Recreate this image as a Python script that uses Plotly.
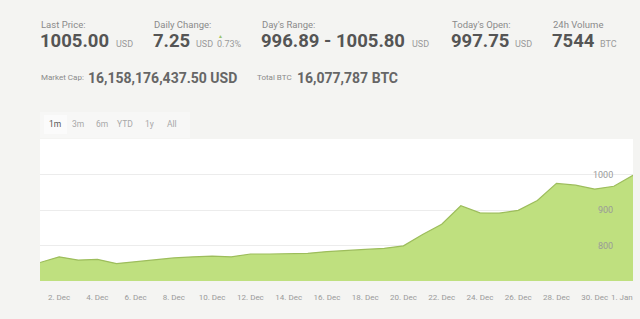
import plotly.graph_objects as go
import pandas as pd

# ---- data ----
dates = pd.date_range("2016-12-01", "2017-01-01", freq="D").strftime("%Y-%m-%d").tolist()
prices = [752, 768, 759, 761, 749, 755, 761, 765, 768, 770, 768, 776, 776, 777, 778, 783,
          787, 789, 792, 799, 831, 860, 912, 892, 891, 899, 927, 975, 970, 959, 967, 998]
x_tick_vals = ["2016-12-%02d" % d for d in range(2, 31, 2)]
x_tick_text = ["%d. Dec" % d for d in range(2, 31, 2)]
y_tick_vals = [800, 900, 1000]
range_buttons = ["1m", "3m", "6m", "YTD", "1y", "All"]

W, H = 640, 319
L, R, T, B = 40, 7, 139, 38
PW, PH = W - L - R, H - T - B

def px(x):
    return (x - L) / PW

def py(y):
    return (H - B - y) / PH

fig = go.Figure()
fig.add_trace(go.Scatter(
    x=dates, y=prices, mode="lines", fill="tozeroy",
    line=dict(color="#9dbd5c", width=1.2), fillcolor="#bfe07f",
    hoverinfo="skip", showlegend=False))

FONT = "Roboto"
ann = []

def txt(x, y, s, size, color, bold=False, anchor="left"):
    ann.append(dict(x=px(x), y=py(y), xref="paper", yref="paper", text=("<b>%s</b>" % s) if bold else s,
                    showarrow=False, xanchor=anchor, yanchor="middle",
                    font=dict(family=FONT, size=size, color=color)))

lab = "#8a8a8a"; big = "#555555"; unit = "#9a9a9a"
BIG = 18.5
# header row 1
txt(39, 24, "Last Price:", 9.5, lab)
txt(38, 41, "1005.00", BIG, big, True)
txt(114, 44, "USD", 9, unit)
txt(152, 24, "Daily Change:", 9.5, lab)
txt(151, 41, "7.25", BIG, big, True)
txt(194, 44, "USD", 9, unit)
txt(215, 44, "0.73%", 9, unit)
txt(216, 36, "▲", 5, "#9dc46a")
txt(260, 24, "Day's Range:", 9.5, lab)
txt(259, 41, "996.89 - 1005.80", BIG, big, True)
txt(410, 44, "USD", 9, unit)
txt(450, 24, "Today's Open:", 9.5, lab)
txt(449, 41, "997.75", BIG, big, True)
txt(513, 44, "USD", 9, unit)
txt(551, 24, "24h Volume", 9.5, lab)
txt(550, 41, "7544", BIG, big, True)
txt(598, 44, "BTC", 9, unit)
# header row 2
txt(39, 78, "Market Cap:", 8, lab)
txt(86, 78, "16,158,176,437.50 USD", 14, "#666666", True)
txt(255, 78, "Total BTC", 8, lab)
txt(295, 78, "16,077,787 BTC", 14, "#666666", True)

# range selector labels
btn_x = [55, 78, 102, 125, 149, 172]
for bx, b in zip(btn_x, range_buttons):
    txt(bx, 124, b, 8.5, "#555555" if b == "1m" else "#a8a8a8", anchor="center")

# y-axis labels, drawn inside the plot on the right
for v in y_tick_vals:
    ann.append(dict(x=px(615), y=v, xref="paper", yref="y", text=str(v), showarrow=False,
                    xanchor="right", yanchor="middle",
                    font=dict(family=FONT, size=9, color="#9a9a9a")))

# last x label
ann.append(dict(x="2017-01-01", y=0, xref="x", yref="paper", text="1. Jan", showarrow=False,
                xanchor="right", yanchor="top", xshift=2, yshift=-10,
                font=dict(family=FONT, size=8, color="#9a9a9a")))

shapes = [
    dict(type="rect", xref="paper", yref="paper", x0=px(40), x1=px(190), y0=py(138), y1=py(112),
         fillcolor="#f7f7f6", line=dict(width=0), layer="below"),
    dict(type="rect", xref="paper", yref="paper", x0=px(44), x1=px(67), y0=py(134), y1=py(115),
         fillcolor="#fbfbfb", line=dict(width=0), layer="below"),
]

fig.update_layout(
    width=W, height=H, margin=dict(l=L, r=R, t=T, b=B),
    paper_bgcolor="#f4f4f2", plot_bgcolor="#ffffff",
    font=dict(family=FONT, color="#9a9a9a"),
    annotations=ann, shapes=shapes,
    xaxis=dict(range=["2016-12-01", "2017-01-01"], tickvals=x_tick_vals, ticktext=x_tick_text,
               showgrid=False, zeroline=False, showline=False, ticks="",
               tickfont=dict(size=8, color="#9a9a9a"), ticklabelstandoff=10,
               ticklabeloverflow="allow"),
    yaxis=dict(range=[700, 1100], tickvals=y_tick_vals, showticklabels=False,
               showgrid=True, gridcolor="#ececec", gridwidth=1, zeroline=False, showline=False,
               ticks=""),
)

fig.write_html("out.html")
